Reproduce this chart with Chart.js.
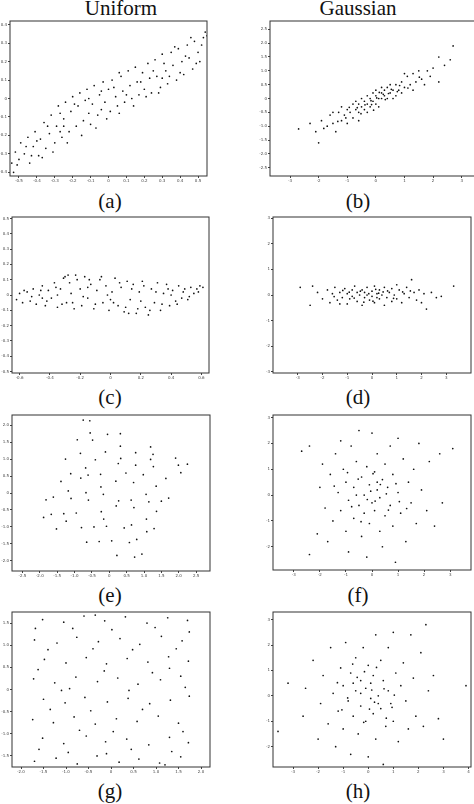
<!DOCTYPE html>
<html>
<head>
<meta charset="utf-8">
<script src="https://cdn.jsdelivr.net/npm/chart.js@4"></script>
<style>
  body { margin: 0; width: 474px; height: 804px; background: #fff; position: relative; overflow: hidden; }
  .box { position: absolute; }
  .lbl { position: absolute; font-family: "Liberation Serif", serif; font-size: 21px; color: #111; transform: translateX(-50%); white-space: nowrap; }
</style>
</head>
<body>
<div class="lbl" style="left:121px;top:-4px">Uniform</div>
<div class="lbl" style="left:358px;top:-4px">Gaussian</div>
<div class="lbl" style="left:110px;top:189px">(a)</div>
<div class="lbl" style="left:358px;top:189px">(b)</div>
<div class="lbl" style="left:110px;top:385px">(c)</div>
<div class="lbl" style="left:358px;top:385px">(d)</div>
<div class="lbl" style="left:110px;top:583px">(e)</div>
<div class="lbl" style="left:358px;top:583px">(f)</div>
<div class="lbl" style="left:110px;top:779px">(g)</div>
<div class="lbl" style="left:358px;top:779px">(h)</div>
<script>
// scatter samples (subset of the plotted points)
const ptsA = [[-0.54,-0.35],[-0.52,-0.29],[-0.50,-0.33],[-0.49,-0.24],[-0.47,-0.30],[-0.45,-0.21],[-0.44,-0.35],[-0.42,-0.26],[-0.41,-0.18],[-0.39,-0.31],[-0.38,-0.22],[-0.36,-0.13],[-0.35,-0.27],[-0.33,-0.19],[-0.32,-0.09],[-0.30,-0.24],[-0.29,-0.15],[-0.28,-0.04],[-0.26,-0.21],[-0.25,-0.11],[-0.24,-0.02],[-0.22,-0.18],[-0.21,-0.07],[-0.20,0.01],[-0.18,-0.15],[-0.17,-0.04],[-0.16,0.03],[-0.14,-0.12],[-0.13,-0.01],[-0.12,0.05],[-0.10,-0.14],[-0.09,-0.03],[-0.08,0.07],[-0.06,-0.09],[-0.05,0.02],[-0.04,-0.06],[-0.03,0.09],[-0.02,-0.02],[0.00,0.05],[0.01,-0.07],[0.02,0.10],[0.04,0.01],[0.05,-0.04],[0.07,0.12],[0.08,0.04],[0.09,-0.02],[0.11,0.15],[0.12,0.07],[0.13,0.00],[0.15,0.17],[0.16,0.09],[0.17,0.02],[0.19,0.14],[0.20,0.05],[0.22,0.19],[0.23,0.11],[0.24,0.03],[0.26,0.21],[0.27,0.12],[0.29,0.06],[0.30,0.24],[0.32,0.15],[0.33,0.08],[0.35,0.25],[0.36,0.18],[0.38,0.10],[0.39,0.27],[0.41,0.20],[0.42,0.13],[0.44,0.29],[0.45,0.22],[0.47,0.16],[0.48,0.31],[0.50,0.25],[0.51,0.20],[0.53,0.33],[0.54,0.36]];
const ptsA2 = [[-0.53,-0.40],[-0.51,-0.36],[-0.46,-0.26],[-0.43,-0.31],[-0.40,-0.23],[-0.37,-0.32],[-0.34,-0.15],[-0.31,-0.29],[-0.27,-0.08],[-0.27,-0.18],[-0.23,-0.24],[-0.19,-0.03],[-0.15,-0.20],[-0.11,0.00],[-0.07,-0.16],[-0.04,0.04],[-0.01,-0.11],[0.03,0.06],[0.06,-0.08],[0.10,0.02],[0.14,-0.04],[0.18,0.09],[0.21,0.01],[0.25,0.15],[0.28,0.03],[0.31,0.19],[0.34,0.12],[0.37,0.28],[0.40,0.14],[0.43,0.23],[0.46,0.33],[0.49,0.19],[0.52,0.29],[0.55,0.34],[-0.11,-0.08],[0.06,0.14],[-0.25,-0.15],[0.30,0.11]];
const ptsB = [[-2.7,-1.1],[-2.3,-0.9],[-2.0,-1.6],[-2.1,-1.2],[-1.9,-0.8],[-1.7,-1.0],[-1.6,-0.6],[-1.5,-0.9],[-1.4,-1.2],[-1.3,-0.5],[-1.2,-0.8],[-1.2,-0.3],[-1.1,-0.6],[-1.0,-0.4],[-1.0,-0.9],[-0.9,-0.5],[-0.8,-0.2],[-0.8,-0.7],[-0.7,-0.4],[-0.7,-0.1],[-0.6,-0.5],[-0.6,-0.2],[-0.5,-0.3],[-0.5,0.0],[-0.4,-0.4],[-0.4,-0.1],[-0.3,-0.2],[-0.3,0.1],[-0.2,-0.3],[-0.2,0.0],[-0.1,-0.1],[-0.1,0.2],[0.0,-0.2],[0.0,0.1],[0.0,0.3],[0.1,0.0],[0.1,-0.3],[0.2,0.2],[0.2,0.0],[0.3,0.3],[0.3,0.1],[0.4,0.0],[0.4,0.4],[0.5,0.2],[0.5,0.5],[0.6,0.3],[0.7,0.1],[0.7,0.5],[0.8,0.3],[0.9,0.6],[0.9,0.2],[1.0,0.4],[1.1,0.8],[1.2,0.5],[1.3,0.3],[1.3,0.9],[1.4,0.6],[1.5,1.0],[1.6,0.7],[1.7,0.5],[1.8,1.0],[1.9,0.8],[2.0,1.1],[2.2,0.6],[2.2,1.5],[2.4,1.2],[2.6,1.4],[2.7,1.9],[-0.3,-0.5],[0.2,0.4],[-0.6,-0.8],[0.6,0.0],[-1.5,-0.5],[1.0,0.9]];
const ptsB2 = [[-0.93,-0.32],[-0.52,-0.55],[-0.17,-0.08],[0.12,0.22],[0.33,-0.04],[0.54,0.33],[0.83,0.47],[1.12,0.38],[-1.33,-0.83],[-0.08,-0.42],[0.44,0.18],[0.03,0.02],[-0.38,-0.23],[1.52,0.77],[-1.82,-1.08],[-0.65,-0.33],[0.26,0.15],[-0.15,-0.22],[0.75,0.25],[-1.05,-0.7]];
const ptsC = [[-0.62,-0.03],[-0.60,0.01],[-0.58,-0.05],[-0.55,0.02],[-0.53,-0.04],[-0.51,0.04],[-0.49,-0.06],[-0.47,0.00],[-0.45,0.06],[-0.43,-0.07],[-0.41,0.03],[-0.39,-0.02],[-0.37,0.08],[-0.35,-0.08],[-0.33,0.04],[-0.31,0.11],[-0.29,-0.05],[-0.28,0.13],[-0.26,0.01],[-0.24,-0.09],[-0.22,0.10],[-0.20,0.04],[-0.19,-0.07],[-0.17,0.12],[-0.15,-0.02],[-0.13,0.07],[-0.11,-0.09],[-0.09,0.03],[-0.07,0.10],[-0.05,-0.05],[-0.03,0.06],[-0.01,-0.10],[0.01,0.02],[0.03,0.11],[0.05,-0.07],[0.07,0.05],[0.09,-0.11],[0.11,0.09],[0.13,-0.03],[0.15,0.07],[0.17,-0.12],[0.19,0.02],[0.21,0.09],[0.23,-0.08],[0.25,-0.13],[0.27,0.04],[0.29,-0.05],[0.31,0.08],[0.33,-0.10],[0.35,0.01],[0.37,0.07],[0.39,-0.07],[0.41,0.03],[0.43,-0.04],[0.45,0.06],[0.47,-0.02],[0.49,0.04],[0.51,-0.03],[0.53,0.05],[0.55,0.01],[0.57,0.04],[0.59,0.06],[0.61,0.05],[-0.35,0.00],[0.0,-0.03],[-0.15,0.05],[0.2,-0.04],[-0.45,-0.02],[0.4,0.00]];
const ptsC2 = [[-0.57,0.03],[-0.52,-0.01],[-0.46,0.03],[-0.42,-0.04],[-0.36,0.05],[-0.32,-0.06],[-0.27,0.08],[-0.23,0.13],[-0.18,-0.01],[-0.14,0.10],[-0.10,-0.06],[-0.06,0.12],[-0.02,0.00],[0.02,-0.05],[0.06,0.08],[0.10,-0.08],[0.14,0.04],[0.18,-0.09],[0.22,0.06],[0.26,-0.10],[0.30,0.02],[0.34,-0.06],[0.38,0.04],[0.44,-0.06],[0.48,0.02],[0.52,-0.01],[0.58,0.02],[-0.25,-0.05],[0.12,-0.12],[-0.30,0.12]];
const ptsD = [[-2.9,0.3],[-2.5,-0.4],[-2.4,0.35],[-2.2,0.1],[-2.0,-0.15],[-1.8,0.2],[-1.7,-0.3],[-1.6,0.05],[-1.5,0.3],[-1.4,-0.2],[-1.3,0.1],[-1.2,-0.1],[-1.1,0.25],[-1.0,-0.35],[-1.0,0.05],[-0.9,-0.15],[-0.8,0.2],[-0.8,-0.05],[-0.7,0.35],[-0.6,-0.25],[-0.6,0.1],[-0.5,0.0],[-0.4,-0.4],[-0.4,0.2],[-0.3,-0.1],[-0.2,0.3],[-0.2,0.0],[-0.1,-0.2],[0.0,0.15],[0.0,-0.05],[0.1,0.35],[0.1,-0.3],[0.2,0.05],[0.3,-0.15],[0.3,0.2],[0.4,0.0],[0.5,-0.4],[0.5,0.3],[0.6,-0.1],[0.7,0.1],[0.8,-0.25],[0.8,0.25],[0.9,0.0],[1.0,-0.15],[1.1,0.2],[1.2,-0.3],[1.3,0.05],[1.4,0.3],[1.5,-0.1],[1.6,0.6],[1.7,0.1],[1.8,-0.2],[1.9,0.2],[2.0,-0.3],[2.1,0.05],[2.2,-0.55],[2.4,0.1],[2.6,-0.1],[2.8,-0.05],[3.3,0.35],[-0.3,0.1],[0.2,-0.1],[-1.3,-0.35],[1.0,0.4]];
const ptsD2 = [[-0.47,0.15],[-0.13,0.05],[0.27,0.07],[0.63,0.16],[-0.92,0.11],[1.24,0.12],[-1.53,-0.06],[0.04,-0.24],[0.87,-0.13],[-0.33,-0.28],[-0.72,-0.12],[0.45,0.12],[-1.18,0.18],[1.55,0.16],[0.15,0.22]];
const ptsE = [[-1.67,-0.63],[-0.80,-1.02],[0.07,-1.41],[0.73,-1.89],[-1.10,-0.16],[-0.23,-0.55],[0.64,-0.94],[-1.11,0.57],[-0.24,0.18],[0.63,-0.21],[1.36,-0.54],[-0.40,0.98],[0.48,0.59],[1.35,0.20],[-0.55,1.77],[0.32,1.38],[1.19,0.99],[1.99,0.82],[-1.82,-0.20],[-1.39,0.34],[-1.26,1.00],[-0.92,1.57],[-0.56,2.13],[-1.52,-1.06],[-0.65,-1.45],[0.22,-1.84],[-0.95,-0.59],[-0.08,-0.98],[0.79,-1.37],[-0.67,0.01],[0.20,-0.38],[1.07,-0.77],[-0.68,0.74],[0.19,0.35],[1.06,-0.04],[-0.11,1.21],[0.76,0.82],[1.63,0.43],[0.32,1.75],[1.19,1.36],[1.91,1.03],[-0.44,-1.00],[-0.60,-0.21],[0.70,0.31],[-0.48,1.56],[0.94,-1.80],[1.29,-1.05],[1.71,-0.15],[2.06,0.60],[0.71,-0.43],[-0.61,0.53],[-1.61,-0.12],[0.26,0.87],[-1.31,-0.61],[1.27,0.78],[-0.17,-0.04],[-1.89,-0.72],[-0.05,1.73],[0.43,-1.03],[1.50,-0.24],[2.25,0.85],[-0.75,2.15]];
const ptsE2 = [[-1.24,-0.83],[-0.16,-0.77],[1.14,-0.26],[0.33,1.02],[-1.18,0.06],[0.76,1.19],[-0.25,0.55],[0.58,-1.46],[0.27,-0.23],[-0.83,1.17],[1.08,-1.14],[0.98,0.54],[-0.29,-1.43],[-0.82,0.44],[1.26,1.14]];
const ptsF = [[-2.7,1.7],[-2.4,-2.3],[-2.4,1.9],[-2.1,-1.5],[-2.0,0.3],[-1.9,1.2],[-1.8,-0.5],[-1.7,-1.8],[-1.6,0.8],[-1.5,-1.0],[-1.4,1.6],[-1.3,0.1],[-1.2,-0.6],[-1.1,1.0],[-1.0,-1.4],[-1.0,0.5],[-0.9,-2.2],[-0.9,-0.2],[-0.8,1.9],[-0.7,0.3],[-0.7,-0.9],[-0.6,1.3],[-0.5,-0.4],[-0.5,2.5],[-0.4,0.7],[-0.4,-1.6],[-0.3,0.0],[-0.3,-0.7],[-0.2,1.1],[-0.2,-2.4],[-0.1,0.4],[-0.1,-1.1],[0.0,2.4],[0.0,-0.3],[0.1,0.9],[0.1,-0.6],[0.2,1.6],[0.2,0.2],[0.3,-1.4],[0.3,-0.1],[0.4,0.6],[0.4,-2.0],[0.5,1.2],[0.5,-0.8],[0.6,0.3],[0.7,-0.4],[0.7,1.9],[0.8,-1.2],[0.8,0.8],[0.9,-2.6],[1.0,0.1],[1.0,2.2],[1.1,-0.7],[1.2,1.4],[1.3,-1.8],[1.4,0.5],[1.5,-0.3],[1.6,1.0],[1.7,-1.1],[1.8,2.0],[1.9,0.2],[2.1,-0.6],[2.2,1.3],[2.4,-1.2],[2.6,1.6],[2.7,-0.3],[3.1,1.8],[-0.6,0.0],[0.2,0.5],[-1.2,2.1]];
const ptsF2 = [[-0.53,0.62],[0.32,0.41],[0.12,-0.23],[-0.18,-0.17],[0.63,-0.58],[-0.94,0.87],[0.92,0.44],[-0.42,-1.03],[0.04,0.83],[1.33,-0.52],[-0.78,-0.45],[0.55,0.05],[-0.05,0.15],[1.05,-0.25],[-1.45,0.35]];
const ptsG = [[-1.70,-1.62],[-1.22,-1.55],[-0.75,-1.68],[-0.31,-1.50],[0.18,-1.64],[0.62,-1.57],[1.08,-1.66],[1.55,-1.52],[-1.52,-1.10],[-1.05,-1.22],[-0.55,-1.05],[-0.12,-1.18],[0.35,-1.12],[0.84,-1.25],[1.30,-1.08],[1.72,-1.20],[-1.74,-0.68],[-1.28,-0.75],[-0.82,-0.62],[-0.35,-0.78],[0.12,-0.66],[0.58,-0.72],[1.05,-0.60],[1.50,-0.76],[-1.50,-0.22],[-1.02,-0.30],[-0.58,-0.18],[-0.08,-0.28],[0.38,-0.20],[0.86,-0.32],[1.32,-0.24],[1.74,-0.15],[-1.72,0.24],[-1.25,0.15],[-0.78,0.28],[-0.30,0.18],[0.15,0.26],[0.60,0.12],[1.10,0.22],[1.55,0.30],[-1.48,0.68],[-1.00,0.60],[-0.55,0.72],[-0.10,0.58],[0.36,0.70],[0.82,0.62],[1.28,0.74],[1.72,0.64],[-1.70,1.12],[-1.20,1.05],[-0.76,1.18],[-0.28,1.08],[0.20,1.15],[0.64,1.02],[1.12,1.20],[1.58,1.10],[-1.52,1.58],[-1.05,1.52],[-0.60,1.66],[-0.14,1.55],[0.32,1.64],[0.80,1.50],[1.26,1.62],[1.70,1.56]];
const ptsG2 = [[-1.60,-1.35],[-0.95,-1.42],[-0.10,-1.45],[0.45,-1.35],[1.35,-1.40],[-1.35,-0.45],[-0.70,-0.92],[0.05,-0.95],[0.70,-0.45],[1.60,-0.95],[-1.62,0.45],[-0.92,0.02],[-0.15,0.42],[0.40,-0.02],[1.30,0.48],[-1.40,0.90],[-0.40,0.92],[0.48,0.90],[1.45,0.92],[-1.68,1.38],[-0.85,1.38],[0.02,1.35],[0.98,1.40],[1.74,1.30],[-1.10,-0.02],[0.92,0.38],[-0.45,-0.48],[1.20,-1.70],[-0.35,1.68],[1.65,0.05]];
const ptsH = [[-3.6,-1.4],[-3.2,0.5],[-2.6,-0.8],[-2.5,0.3],[-2.2,1.4],[-2.0,-1.7],[-1.9,-0.3],[-1.8,0.8],[-1.6,-1.1],[-1.5,1.9],[-1.4,0.1],[-1.3,-2.0],[-1.2,-0.6],[-1.1,1.1],[-1.0,0.4],[-1.0,-1.3],[-0.9,2.1],[-0.8,-0.2],[-0.7,0.9],[-0.7,-2.3],[-0.6,-0.8],[-0.5,1.5],[-0.5,0.2],[-0.4,-1.5],[-0.3,0.6],[-0.3,-0.4],[-0.2,1.9],[-0.1,-1.0],[-0.1,0.3],[0.0,-2.4],[0.0,1.2],[0.1,-0.1],[0.2,0.8],[0.2,-0.7],[0.3,2.4],[0.3,-1.7],[0.4,0.0],[0.5,1.4],[0.5,-0.5],[0.6,-2.7],[0.6,0.6],[0.7,-1.2],[0.8,0.2],[0.8,1.9],[0.9,-0.3],[1.0,2.5],[1.0,-1.0],[1.1,0.9],[1.2,-1.8],[1.3,0.4],[1.4,1.3],[1.5,-0.2],[1.6,-1.3],[1.7,2.4],[1.8,0.7],[1.9,-0.8],[2.1,1.7],[2.2,-1.2],[2.3,2.8],[2.4,0.2],[2.6,0.8],[2.8,-0.9],[3.0,-1.7],[3.9,0.4],[-0.3,0.1],[0.4,-0.3],[0.1,0.5],[-0.6,0.5]];
const ptsH2 = [[-0.44,0.73],[0.63,0.28],[0.05,-0.52],[-0.82,-0.08],[1.04,0.03],[0.33,1.12],[-0.18,-1.04],[0.72,-0.88],[-1.23,0.52],[0.14,0.23],[-0.62,1.25],[0.95,-0.45],[-1.05,-0.55],[0.25,-0.25],[-0.15,0.95]];

// tick values per panel (x then y)
const ticksAx = [-0.5,-0.4,-0.3,-0.2,-0.1,0,0.1,0.2,0.3,0.4,0.5];
const ticksAy = [-0.4,-0.3,-0.2,-0.1,0,0.1,0.2,0.3,0.4];
const ticksBx = [-3,-2,-1,0,1,2,3];
const ticksBy = [-2.5,-2,-1.5,-1,-0.5,0,0.5,1,1.5,2,2.5];
const ticksCx = [-0.6,-0.4,-0.2,0,0.2,0.4,0.6];
const ticksCy = [-0.5,-0.4,-0.3,-0.2,-0.1,0,0.1,0.2,0.3,0.4,0.5];
const ticksDx = [-3,-2,-1,0,1,2,3];
const ticksDy = [-3,-2,-1,0,1,2,3];
const ticksEx = [-2.5,-2,-1.5,-1,-0.5,0,0.5,1,1.5,2,2.5];
const ticksEy = [-2,-1.5,-1,-0.5,0,0.5,1,1.5,2];
const ticksFx = [-3,-2,-1,0,1,2,3];
const ticksFy = [-2,-1,0,1,2,3];
const ticksGx = [-2,-1.5,-1,-0.5,0,0.5,1,1.5,2];
const ticksGy = [-1.5,-1,-0.5,0,0.5,1,1.5];
const ticksHx = [-3,-2,-1,0,1,2,3,4];
const ticksHy = [-2,-1,0,1,2,3];

const panels = [
  { pts: ptsA.concat(ptsA2), frame: [10, 21, 197, 155], xr: [-0.55, 0.55], yr: [-0.42, 0.42], tx: ticksAx, ty: ticksAy },
  { pts: ptsB.concat(ptsB2), frame: [270, 21, 206, 155], xr: [-3.7, 3.5], yr: [-2.8, 2.8], tx: ticksBx, ty: ticksBy },
  { pts: ptsC.concat(ptsC2), frame: [12, 217, 197, 156], xr: [-0.65, 0.65], yr: [-0.51, 0.51], tx: ticksCx, ty: ticksCy },
  { pts: ptsD.concat(ptsD2), frame: [273, 217, 198, 156], xr: [-4, 4], yr: [-3.05, 3.05], tx: ticksDx, ty: ticksDy },
  { pts: ptsE.concat(ptsE2), frame: [12, 415, 198, 156], xr: [-2.8, 2.9], yr: [-2.3, 2.3], tx: ticksEx, ty: ticksEy },
  { pts: ptsF.concat(ptsF2), frame: [273, 415, 198, 155], xr: [-3.8, 3.8], yr: [-2.9, 3.1], tx: ticksFx, ty: ticksFy },
  { pts: ptsG.concat(ptsG2), frame: [12, 612, 198, 155], xr: [-2.2, 2.2], yr: [-1.75, 1.75], tx: ticksGx, ty: ticksGy },
  { pts: ptsH.concat(ptsH2), frame: [273, 612, 198, 155], xr: [-3.8, 4.1], yr: [-2.8, 3.3], tx: ticksHx, ty: ticksHy }
];

const frameBox = {
  id: 'frameBox',
  afterDraw(chart) {
    const a = chart.chartArea, c = chart.ctx;
    c.save();
    c.strokeStyle = '#333';
    c.lineWidth = 1;
    c.strokeRect(a.left, a.top, a.right - a.left, a.bottom - a.top);
    c.restore();
  }
};

function axis(range, ticks, isX) {
  return {
    type: 'linear', min: range[0], max: range[1],
    afterBuildTicks: ax => { ax.ticks = ticks.map(v => ({ value: v })); },
    afterFit: ax => { if (isX) ax.height = 10; else ax.width = 20; },
    grid: { drawOnChartArea: false, tickLength: 2, color: '#444' },
    border: { display: false },
    ticks: { font: { size: 4, family: 'DejaVu Sans' }, color: '#444', padding: 1, maxRotation: 0, autoSkip: false }
  };
}

panels.forEach(p => {
  const [fx, fy, fw, fh] = p.frame;
  const box = document.createElement('div');
  box.className = 'box';
  box.style.left = (fx - 20) + 'px';
  box.style.top = (fy - 4) + 'px';
  box.style.width = (fw + 24) + 'px';
  box.style.height = (fh + 14) + 'px';
  const cv = document.createElement('canvas');
  box.appendChild(cv);
  document.body.appendChild(box);
  new Chart(cv, {
    type: 'scatter',
    data: { datasets: [{ data: p.pts.map(q => ({ x: q[0], y: q[1] })), backgroundColor: '#111', borderWidth: 0, pointRadius: 0.85 }] },
    options: {
      maintainAspectRatio: false, responsive: true, animation: false,
      layout: { padding: { top: 4, right: 4, left: 0, bottom: 0 } },
      plugins: { legend: { display: false }, tooltip: { enabled: false } },
      scales: { x: axis(p.xr, p.tx, true), y: axis(p.yr, p.ty, false) }
    },
    plugins: [frameBox]
  });
});
</script>
</body>
</html>
